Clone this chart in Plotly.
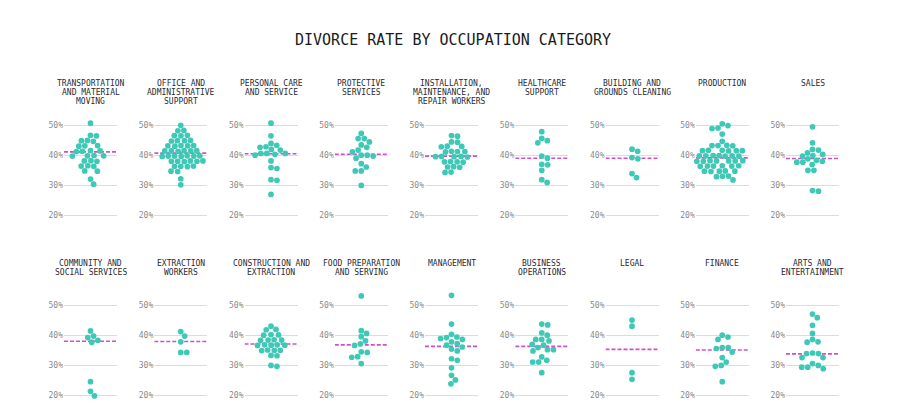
import math
import plotly.graph_objects as go

W, H = 900, 411

TITLE = "DIVORCE RATE BY OCCUPATION CATEGORY"

categories = [
    ["TRANSPORTATION", "AND MATERIAL", "MOVING"],
    ["OFFICE AND", "ADMINISTRATIVE", "SUPPORT"],
    ["PERSONAL CARE", "AND SERVICE"],
    ["PROTECTIVE", "SERVICES"],
    ["INSTALLATION,", "MAINTENANCE, AND", "REPAIR WORKERS"],
    ["HEALTHCARE", "SUPPORT"],
    ["BUILDING AND", "GROUNDS CLEANING"],
    ["PRODUCTION"],
    ["SALES"],
    ["COMMUNITY AND", "SOCIAL SERVICES"],
    ["EXTRACTION", "WORKERS"],
    ["CONSTRUCTION AND", "EXTRACTION"],
    ["FOOD PREPARATION", "AND SERVING"],
    ["MANAGEMENT"],
    ["BUSINESS", "OPERATIONS"],
    ["LEGAL"],
    ["FINANCE"],
    ["ARTS AND", "ENTERTAINMENT"],
]

# divorce rate (%) of each occupation within the category
transportation = [50.6, 46.6, 46.4, 44.9, 44.8, 44.6, 43.2, 43.1, 43.0, 41.5, 41.4, 41.3,
                  41.2, 39.8, 39.9, 39.7, 39.8, 38.1, 38.2, 38.0, 36.4, 36.5, 36.3, 34.8,
                  34.7, 32.1, 30.4]
office = [49.9, 48.2, 48.1, 46.6, 46.5, 46.4, 44.9, 44.8, 44.8, 44.7, 43.2, 43.1, 43.1,
          43.0, 43.2, 41.5, 41.4, 41.4, 41.3, 41.5, 41.4, 39.8, 39.7, 39.7, 39.6, 39.8,
          39.7, 39.6, 38.1, 38.0, 38.0, 37.9, 38.1, 38.0, 36.4, 36.3, 36.3, 36.2, 34.7,
          34.6, 32.2, 30.2]
personal_care = [50.6, 46.4, 43.9, 43.3, 42.8, 42.6, 41.9, 41.7, 40.6, 40.6, 40.6, 40.3,
                 40.0, 38.1, 35.9, 35.6, 31.9, 31.7, 27.0]
protective = [47.2, 45.5, 45.5, 44.4, 43.4, 42.6, 41.7, 41.1, 40.0, 39.7, 40.0, 39.0,
              37.2, 36.1, 34.8, 34.8, 30.0]
installation = [46.5, 46.3, 44.4, 44.3, 42.9, 43.0, 42.8, 41.2, 41.3, 41.1, 41.2, 39.5,
                39.6, 39.4, 39.5, 39.6, 37.8, 37.9, 37.7, 37.8, 36.1, 36.2, 36.0, 34.4,
                34.3]
healthcare = [47.8, 45.6, 44.8, 44.1, 39.7, 39.0, 36.8, 37.0, 35.0, 31.9, 31.0]
building = [42.0, 41.3, 39.2, 38.8, 33.9, 32.6]
production = [50.4, 49.8, 49.0, 48.8, 47.0, 44.6, 43.3, 43.2, 43.2, 43.1, 41.6, 41.5,
              41.5, 41.4, 41.6, 41.5, 39.8, 39.9, 39.8, 39.7, 39.8, 39.9, 39.7, 38.1,
              38.2, 38.1, 38.0, 38.1, 38.2, 38.0, 36.4, 36.5, 36.4, 36.3, 36.4, 36.5,
              34.7, 34.8, 34.7, 34.6, 34.7, 33.0, 33.1, 32.9, 31.8]
sales = [49.4, 44.1, 41.7, 41.9, 39.7, 40.3, 40.8, 39.9, 38.8, 38.3, 38.0, 37.7, 37.7,
         36.9, 35.0, 35.0, 28.1, 28.3]
community = [41.4, 39.2, 39.7, 38.3, 37.7, 24.6, 21.4, 19.9]
extraction = [41.2, 39.7, 37.8, 34.3, 34.3]
construction = [43.0, 41.8, 41.9, 40.1, 40.2, 40.0, 38.4, 38.5, 38.3, 38.4, 36.7, 36.8,
                36.6, 36.7, 36.8, 35.0, 35.1, 34.9, 35.0, 33.3, 33.2, 30.0, 29.7]
food = [53.0, 41.5, 40.6, 39.5, 38.1, 37.1, 36.6, 34.5, 34.3, 32.9, 32.7, 30.6]
management = [53.2, 43.7, 40.3, 39.2, 39.4, 37.8, 38.6, 38.9, 36.1, 36.7, 34.8, 35.4,
              37.2, 32.2, 31.7, 29.2, 26.7, 25.2, 23.9]
business = [43.7, 43.4, 40.0, 40.8, 38.6, 38.6, 38.1, 37.0, 36.7, 35.9, 35.2, 35.2,
            34.8, 32.8, 31.7, 31.1, 31.1, 27.6]
legal = [45.0, 43.0, 27.6, 25.4]
finance = [39.4, 40.0, 38.6, 35.9, 35.9, 35.6, 34.4, 32.6, 31.1, 30.0, 29.7, 24.6]
arts = [47.0, 45.8, 43.3, 40.6, 38.6, 37.8, 37.7, 34.1, 33.9, 33.9, 32.6, 32.6, 30.6,
        29.4, 30.0, 29.4, 28.9]

series = [transportation, office, personal_care, protective, installation, healthcare,
          building, production, sales, community, extraction, construction, food,
          management, business, legal, finance, arts]

# category-level median divorce rate (dashed line)
median_rates = [41.1, 40.7, 40.5, 40.3, 39.7, 39.0, 39.0, 39.1, 38.9,
                38.0, 37.9, 37.1, 36.8, 36.3, 36.3, 35.3, 35.1, 33.8]

tick_values = [20, 30, 40, 50]
tick_labels = ["20%", "30%", "40%", "50%"]

DOT = "#3ec9b6"
MEDIAN = "#d050c8"
FONT = "DejaVu Sans Mono"

# layout geometry (pixels)
PANEL_W = 53.0
PITCH_X = 90.25
X0 = 64.0
PX_PER_PCT = 3.02
Y_RANGE = [17, 55]
ROW_Y50 = [125.0, 305.0]
DOT_SIZE = 5.7
COLLIDE = 6.0


def beeswarm(vals, d, s):
    order = sorted(range(len(vals)), key=lambda i: -vals[i])
    placed = []
    xs = [0.0] * len(vals)
    for i in order:
        y = vals[i] * s
        cands = [0.0]
        for xj, yj in placed:
            dy = y - yj
            if abs(dy) < d:
                dx = math.sqrt(d * d - dy * dy)
                cands += [xj + dx, xj - dx]
        cands.sort(key=lambda c: (abs(c), -c))
        x = cands[0]
        for c in cands:
            if all((c - xj) ** 2 + (y - yj) ** 2 >= d * d - 1e-6 for xj, yj in placed):
                x = c
                break
        placed.append((x, y))
        xs[i] = x
    return xs


fig = go.Figure()
layout = {}
annotations = []

for k, (cat, vals, med) in enumerate(zip(categories, series, median_rates)):
    row, col = divmod(k, 9)
    n = k + 1
    xa = "x" if n == 1 else f"x{n}"
    ya = "y" if n == 1 else f"y{n}"
    xl = "xaxis" if n == 1 else f"xaxis{n}"
    yl = "yaxis" if n == 1 else f"yaxis{n}"

    left = X0 + col * PITCH_X
    right = left + PANEL_W
    y50 = ROW_Y50[row]
    top_px = y50 - (Y_RANGE[1] - 50) * PX_PER_PCT
    bot_px = y50 + (50 - Y_RANGE[0]) * PX_PER_PCT

    layout[xl] = dict(domain=[left / W, right / W], range=[-PANEL_W / 2, PANEL_W / 2],
                      visible=False, fixedrange=True, anchor=ya)
    layout[yl] = dict(domain=[1 - bot_px / H, 1 - top_px / H], range=Y_RANGE,
                      tickvals=tick_values, ticktext=tick_labels,
                      showgrid=True, gridcolor="#dcdcdc", gridwidth=1,
                      zeroline=False, showline=False, ticks="",
                      tickfont=dict(family=FONT, size=8, color="#8a8a8a"),
                      anchor=xa, fixedrange=True)

    fig.add_trace(go.Scatter(x=[-PANEL_W / 2, PANEL_W / 2], y=[med, med], mode="lines",
                             line=dict(color=MEDIAN, width=1.6, dash="4px,2px"),
                             xaxis=xa, yaxis=ya, showlegend=False, hoverinfo="skip"))
    xs = beeswarm(vals, COLLIDE, PX_PER_PCT)
    fig.add_trace(go.Scatter(x=xs, y=vals, mode="markers",
                             marker=dict(color=DOT, size=DOT_SIZE, line=dict(width=0)),
                             xaxis=xa, yaxis=ya, showlegend=False, cliponaxis=False))

    cx = (left + right) / 2
    title_y0 = 83.3 if row == 0 else 263.3
    for li, line in enumerate(cat):
        annotations.append(dict(text=line, x=cx / W, y=1 - (title_y0 + li * 9.2) / H,
                                xref="paper", yref="paper", showarrow=False,
                                xanchor="center", yanchor="middle",
                                font=dict(family=FONT, size=8, color="#2a2a35")))

annotations.append(dict(text=TITLE, x=452.5 / W, y=1 - 39.5 / H, xref="paper", yref="paper",
                        showarrow=False, xanchor="center", yanchor="middle",
                        font=dict(family=FONT, size=15, color="#1a1a22")))

fig.update_layout(width=W, height=H, margin=dict(l=0, r=0, t=0, b=0),
                  paper_bgcolor="white", plot_bgcolor="white",
                  annotations=annotations, **layout)

fig.write_html("out.html")
